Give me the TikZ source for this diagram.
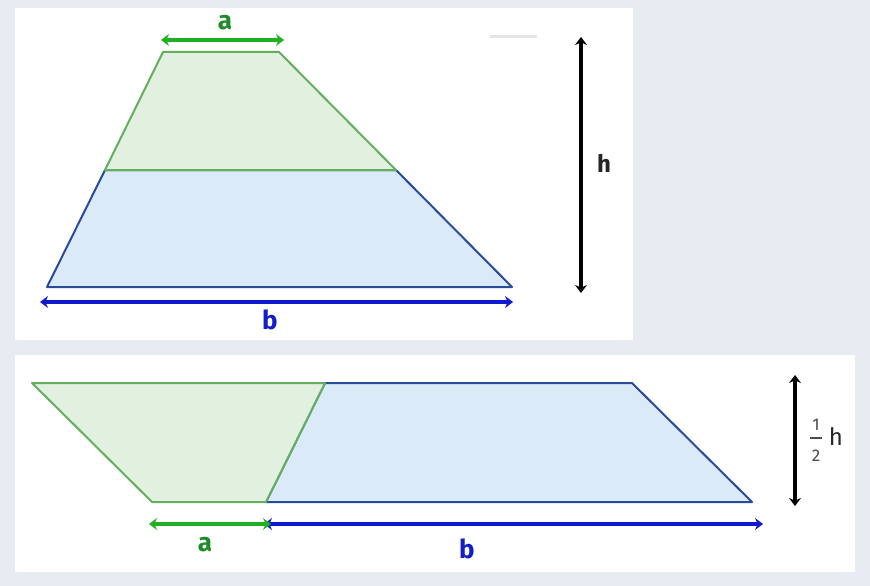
\documentclass[tikz,border=0pt]{standalone}
\usepackage{fontspec}
\setmainfont{Fira Sans}
\usetikzlibrary{arrows.meta}
\definecolor{bgc}{RGB}{232,235,241}
\definecolor{gline}{RGB}{100,175,95}
\definecolor{gfill}{RGB}{226,240,224}
\definecolor{bline}{RGB}{40,75,155}
\definecolor{bfill}{RGB}{218,234,248}
\definecolor{garrow}{RGB}{35,175,35}
\definecolor{barrow}{RGB}{15,25,205}
\definecolor{gtext}{RGB}{30,140,40}
\definecolor{btext}{RGB}{20,30,200}
\tikzset{
  greenpart/.style={draw=gline,fill=gfill,line width=2pt,line join=round},
  bluepart/.style={draw=bline,fill=bfill,line width=2pt,line join=round},
  dimarrow/.style={line width=3.6pt,{Stealth[length=8pt,width=12pt]}-{Stealth[length=8pt,width=12pt]}},
  lbl/.style={font=\bfseries\fontsize{26}{28}\selectfont,inner sep=0pt},
  panel/.style={fill=white,draw=none}
}
\begin{document}
\begin{tikzpicture}[x=1pt,y=-1pt]
\useasboundingbox (0,0) rectangle (870,586);
\fill[bgc] (0,0) rectangle (870,586);
\fill[panel] (15,8) rectangle (633,340);
\fill[panel] (15,355) rectangle (855,572);
% faint mark
\draw[line width=3pt,color=black!10] (490,37) -- (537,37);
% top trapezoid
\coordinate (TL) at (163,52);
\coordinate (TR) at (279,52);
\coordinate (ML) at (105,170);
\coordinate (MR) at (396,170);
\coordinate (BL) at (47,287);
\coordinate (BR) at (512,287);
\draw[bluepart] (ML) -- (MR) -- (BR) -- (BL) -- cycle;
\draw[greenpart] (TL) -- (TR) -- (MR) -- (ML) -- cycle;
% top dimensions
\coordinate (a1s) at (161,40);
\coordinate (a1e) at (284,40);
\draw[dimarrow,garrow] (a1s) -- (a1e);
\node[lbl,text=gtext] (la1) at (225,23) {a};
\coordinate (b1s) at (40,302);
\coordinate (b1e) at (513,302);
\draw[dimarrow,barrow] (b1s) -- (b1e);
\node[lbl,text=btext] (lb1) at (270,320) {b};
\coordinate (h1s) at (581,37);
\coordinate (h1e) at (581,293);
\draw[dimarrow,black] (h1s) -- (h1e);
\node[lbl,text=black!85,font=\bfseries\fontsize{24}{26}\selectfont] (lh1) at (604,163) {h};
% bottom parallelogram
\coordinate (PTL) at (32,383);
\coordinate (PTM) at (325,383);
\coordinate (PTR) at (632,383);
\coordinate (PBL) at (152,502);
\coordinate (PBM) at (266,502);
\coordinate (PBR) at (752,502);
\draw[bluepart] (PTM) -- (PTR) -- (PBR) -- (PBM) -- cycle;
\draw[greenpart] (PTL) -- (PTM) -- (PBM) -- (PBL) -- cycle;
% bottom dimensions
\coordinate (a2s) at (149,524);
\coordinate (a2e) at (271,524);
\coordinate (b2s) at (264,524);
\coordinate (b2e) at (763,524);
\draw[dimarrow,barrow] (b2s) -- (b2e);
\draw[dimarrow,garrow] (a2s) -- (a2e);
\node[lbl,text=gtext] (la2) at (205,545) {a};
\node[lbl,text=btext] (lb2) at (467,549) {b};
\coordinate (h2s) at (795,375);
\coordinate (h2e) at (795,506);
\draw[dimarrow,black] (h2s) -- (h2e);
\node[inner sep=0pt,text=black!70,font=\fontsize{17}{18}\selectfont] (n1) at (816,425) {1};
\node[inner sep=0pt,text=black!70,font=\fontsize{17}{18}\selectfont] (n2) at (816,456) {2};
\draw[line width=1.4pt,black!70] ([xshift=-6pt,yshift=-7pt]n1.south) -- ([xshift=6pt,yshift=-7pt]n1.south);
\node[inner sep=0pt,text=black!85,font=\fontsize{24}{26}\selectfont] (lh2) at (836,437) {h};
\end{tikzpicture}
\end{document}
